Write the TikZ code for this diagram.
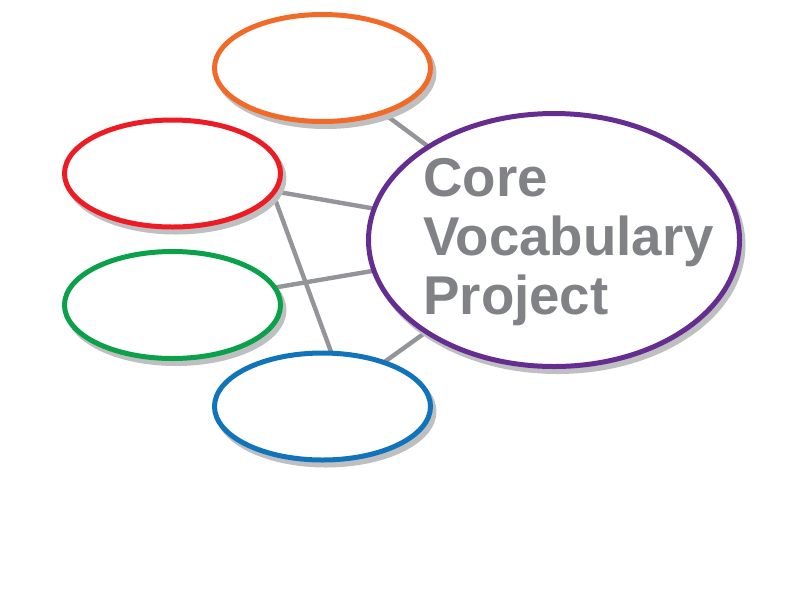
\documentclass[tikz,border=0pt]{standalone}
\usepackage{fontspec}
\setmainfont{Liberation Sans}
\usetikzlibrary{shapes.geometric}
\definecolor{cOrange}{HTML}{F26A27}
\definecolor{cRed}{HTML}{ED1C24}
\definecolor{cGreen}{HTML}{0BA14B}
\definecolor{cBlue}{HTML}{1174BB}
\definecolor{cPurple}{HTML}{652D90}
\definecolor{cLine}{HTML}{939598}
\definecolor{cText}{HTML}{808285}
\definecolor{cShadow}{HTML}{BEBFC1}
\begin{document}
\begin{tikzpicture}[x=0.75pt,y=-0.75pt,
  bubble/.style={ellipse, fill=white, line width=3.75pt, inner sep=0pt,
    preaction={draw=cShadow, fill=cShadow, line width=3.75pt,
      transform canvas={xshift=2.6pt, yshift=-3.75pt}}},
  small/.style={bubble, minimum width=162pt, minimum height=80.25pt},
  link/.style={draw=cLine, line width=3.3pt}]
\useasboundingbox (0,0) rectangle (792,612);
% node positions
\path (322.5,68) coordinate (po)
      (172.5,173.5) coordinate (pr)
      (172.5,305) coordinate (pg)
      (322.5,406.5) coordinate (pb)
      (554,240) coordinate (pp);
% connectors (behind)
\draw[link] (po) -- (pp);
\draw[link] (pr) -- (pp);
\draw[link] (pg) -- (pp);
\draw[link] (pb) -- (pp);
\coordinate (rbA) at (261,160.8);
\coordinate (rbB) at (335.4,363.7);
\draw[link] (rbA) -- (rbB);
% bubbles
\node[small, draw=cOrange] (orange) at (po) {};
\node[small, draw=cRed] (red) at (pr) {};
\node[small, draw=cGreen] (green) at (pg) {};
\node[small, draw=cBlue] (blue) at (pb) {};
\node[bubble, draw=cPurple, minimum width=278.25pt, minimum height=189.75pt] (purple) at (pp) {};
\node[anchor=base west, align=left, inner sep=0pt, text=cText,
  font=\bfseries\fontsize{41}{44.25}\selectfont] (title) at (423,314)
  {Core\\Vocabulary\\Project};
\end{tikzpicture}
\end{document}
